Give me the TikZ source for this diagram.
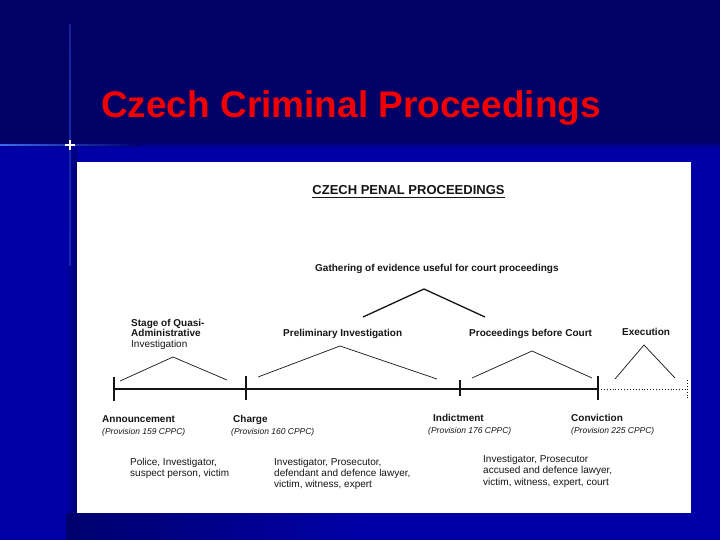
\documentclass[tikz,border=0pt]{standalone}
\usepackage{fontspec}
\setmainfont{Liberation Sans}
\definecolor{navy}{HTML}{000066}
\definecolor{bandblue}{HTML}{0000A6}
\definecolor{shadow}{HTML}{00006E}
\definecolor{flare}{HTML}{3A6CF0}
\definecolor{titlered}{HTML}{F20000}
\definecolor{ink}{HTML}{151515}
\tikzset{
  lbl/.style={inner sep=0pt, anchor=base west, text=ink, font=\fontsize{10}{11}\selectfont},
  blbl/.style={lbl, font=\bfseries\fontsize{10}{11}\selectfont},
  ilbl/.style={lbl, font=\itshape\fontsize{8.5}{10}\selectfont},
  timetick/.style={draw=ink, line width=1.5pt},
  timeline/.style={draw=ink, line width=2pt},
  smalltri/.style={draw=ink, line width=0.7pt},
  bigtri/.style={draw=ink, line width=1.3pt},
}
\begin{document}
\begin{tikzpicture}[x=1pt,y=-1pt]
\useasboundingbox (0,0) rectangle (720,540);
% background
\fill[navy] (0,0) rectangle (720,540);
\shade[top color=navy, bottom color=bandblue] (0,141) rectangle (720,148);
\fill[bandblue] (0,148) rectangle (720,540);
\shade[left color=bandblue, right color=shadow] (66,150) rectangle (77,540);
\shade[left color=shadow, right color=bandblue] (66,513) rectangle (360,540);
% flare
\shade[left color=flare, middle color=white, right color=navy] (0,144.2) rectangle (140,145.8);
\shade[top color=flare!35!navy, middle color=white, bottom color=flare!35!bandblue] (69.2,25) rectangle (70.8,265);
\fill[white] (65,144.3) rectangle (75,145.7);
\fill[white] (69.3,140) rectangle (70.7,150);
% title
\node[inner sep=0pt, anchor=base west, text=titlered, font=\bfseries\fontsize{37}{40}\selectfont] (title) at (101,118) {Czech Criminal Proceedings};
% panel
\fill[white] (77,162) rectangle (691,513);
% heading
\node[lbl, anchor=base, font=\bfseries\fontsize{13}{15}\selectfont] (head) at (408.5,195) {CZECH PENAL PROCEEDINGS};
\draw[ink, line width=0.8pt] ([yshift=-2pt]head.south west) -- ([yshift=-2pt]head.south east);
\node[blbl] (gather) at (315,271.5) {Gathering of evidence useful for court proceedings};
% big triangle
\coordinate (g1) at (363,317);
\coordinate (g2) at (424,289);
\coordinate (g3) at (485,317);
\draw[bigtri] (g1) -- (g2) -- (g3);
% stage labels
\node[blbl] (sq1) at (131,326) {Stage of Quasi-};
\node[blbl] (sq2) at (131,336.5) {Administrative};
\node[lbl] (sq3) at (131,347.5) {Investigation};
\node[blbl] (prelim) at (283,336) {Preliminary Investigation};
\node[blbl] (court) at (469,336) {Proceedings before Court};
\node[blbl] (exec) at (622,335) {Execution};
% small triangles
\coordinate (a1) at (120,381); \coordinate (a2) at (173,357); \coordinate (a3) at (227,380);
\coordinate (b1) at (258,377); \coordinate (b2) at (340,346); \coordinate (b3) at (437,379);
\coordinate (c1) at (472,378); \coordinate (c2) at (532,351); \coordinate (c3) at (592,378);
\coordinate (d1) at (615,379); \coordinate (d2) at (644,345); \coordinate (d3) at (675,378);
\draw[smalltri] (a1) -- (a2) -- (a3);
\draw[smalltri] (b1) -- (b2) -- (b3);
\draw[smalltri] (c1) -- (c2) -- (c3);
\draw[smalltri] (d1) -- (d2) -- (d3);
% timeline
\coordinate (t0) at (114,389);
\coordinate (t1) at (246,389);
\coordinate (t2) at (460,389);
\coordinate (t3) at (598,389);
\coordinate (t4) at (687,389);
\draw[timeline] (t0) -- (t3);
\draw[ink, line width=0.9pt, dotted] (t3) -- (t4);
\draw[timetick] ([yshift=12pt]t0) -- ([yshift=-12pt]t0);
\draw[timetick] ([yshift=13pt]t1) -- ([yshift=-11pt]t1);
\draw[ink, line width=1.1pt] ([yshift=9pt]t2) -- ([yshift=-7pt]t2);
\draw[timetick] ([yshift=13pt]t3) -- ([yshift=-11pt]t3);
\draw[ink, line width=0.9pt, dotted] ([yshift=9pt]t4) -- ([yshift=-9pt]t4);
% event labels
\node[blbl] (ann) at (102,422.5) {Announcement};
\node[ilbl] (annp) at (102,434.5) {(Provision 159 CPPC)};
\node[blbl] (charge) at (233,422.5) {Charge};
\node[ilbl] (chargep) at (231,434.5) {(Provision 160 CPPC)};
\node[blbl] (indict) at (433,421.5) {Indictment};
\node[ilbl] (indictp) at (428,433.5) {(Provision 176 CPPC)};
\node[blbl] (conv) at (571,421.5) {Conviction};
\node[ilbl] (convp) at (571,433.5) {(Provision 225 CPPC)};
% participants
\node[lbl] (p1a) at (130,465.5) {Police, Investigator,};
\node[lbl] (p1b) at (130,476.5) {suspect person, victim};
\node[lbl] (p2a) at (274,465.5) {Investigator, Prosecutor,};
\node[lbl] (p2b) at (274,476.5) {defendant and defence lawyer,};
\node[lbl] (p2c) at (274,487.5) {victim, witness, expert};
\node[lbl] (p3a) at (483,462.5) {Investigator, Prosecutor};
\node[lbl] (p3b) at (483,473.5) {accused and defence lawyer,};
\node[lbl] (p3c) at (483,485) {victim, witness, expert, court};
\end{tikzpicture}
\end{document}
